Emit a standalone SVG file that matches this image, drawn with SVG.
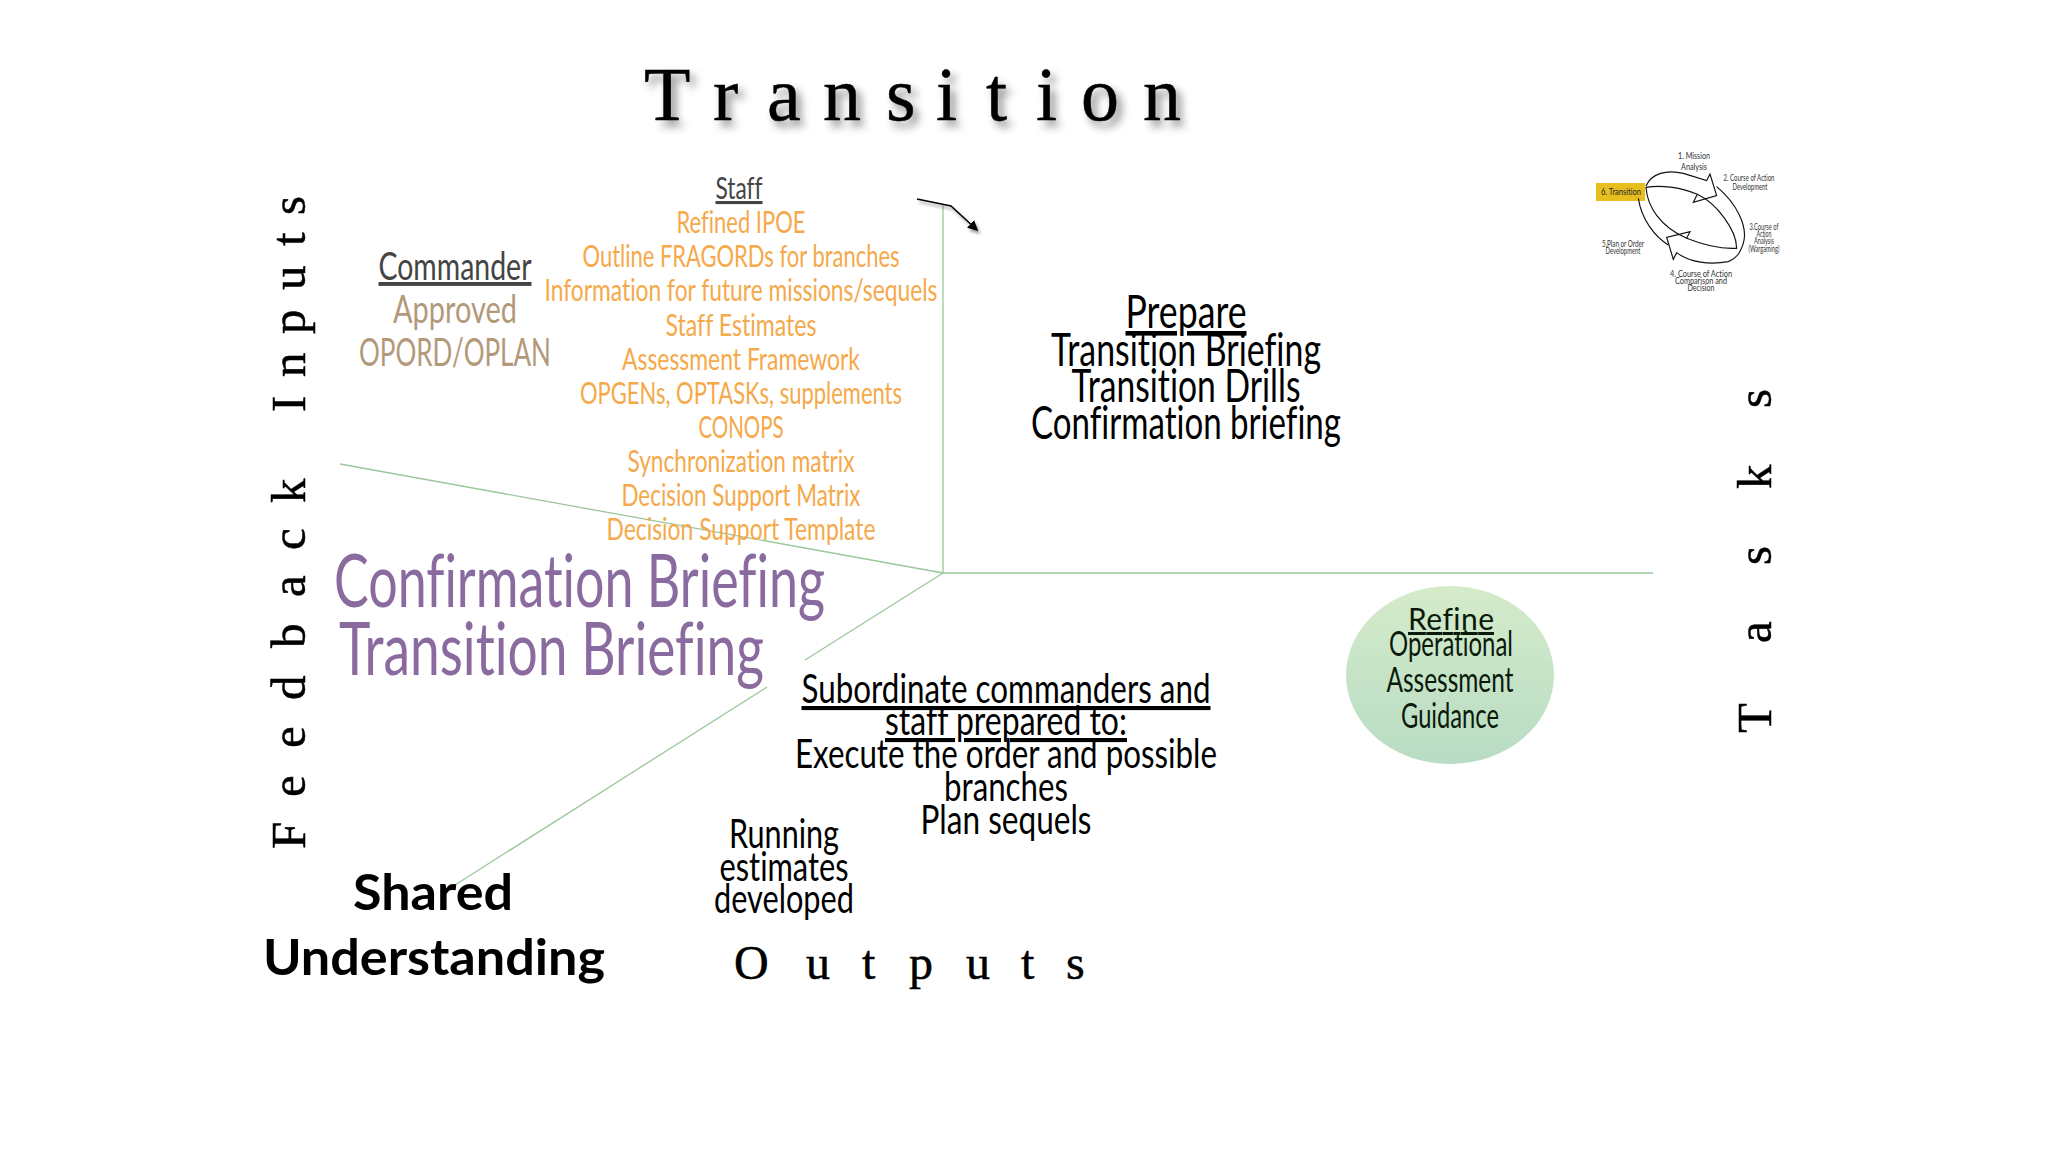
<svg xmlns="http://www.w3.org/2000/svg" width="2048" height="1152" viewBox="0 0 2048 1152">
<defs>
<style>
text{font-family:"Lato","Liberation Sans",sans-serif;text-anchor:middle;font-variant-ligatures:none}
.serif{font-family:"Liberation Serif",serif;fill:#000;text-anchor:start;stroke:#000;stroke-width:.5}
.s{font-size:31px;fill:#f5a94a}
.k{font-size:41px;fill:#000}
.p{font-size:46px;fill:#000}
.t{font-size:39px;fill:#b3997a}
.v{font-size:73px;fill:#8a6ba0;text-anchor:start}
.c{font-size:35px;fill:#0a1a0a}
.r{font-size:30px;fill:#0a1a0a}
.b{font-size:50px;font-weight:700;fill:#000}
.m{font-size:9px;fill:#333}
.g{stroke:#9cc79a;stroke-width:1.3;fill:none}
.u{text-decoration:underline;text-decoration-thickness:2px}
.ring{fill:none;stroke:#111;stroke-width:3.5}
</style>
<filter id="sh" x="-5%" y="-20%" width="110%" height="150%"><feDropShadow dx="5" dy="6" stdDeviation="4" flood-color="#000" flood-opacity=".45"/></filter>
<filter id="sh2" x="-20%" y="-20%" width="150%" height="150%"><feDropShadow dx="2" dy="3" stdDeviation="1.5" flood-color="#000" flood-opacity=".4"/></filter>
<linearGradient id="gr" x1="0" y1="0" x2="0" y2="1"><stop offset="0" stop-color="#d5ebca"/><stop offset="1" stop-color="#b8dcc4"/></linearGradient>
<marker id="ah" markerWidth="7" markerHeight="7" refX="5" refY="3.5" orient="auto"><path d="M0 0L7 3.5L0 7z" fill="#000"/></marker>
</defs>
<rect width="2048" height="1152" fill="#fff"/>
<g id="connectors">
<path class="g" d="M340 464L943 573"/>
<path class="g" d="M943 205V573H1653"/>
<path class="g" d="M943 573L805 660"/>
<path class="g" d="M767 687L455 885"/>
<path d="M917 199L951 206L976 229" fill="none" stroke="#000" stroke-width="1.5" marker-end="url(#ah)" filter="url(#sh2)"/>
</g>
<g id="title" filter="url(#sh)"><text class="serif" y="120" font-size="76" x="644 713 767 823 886 936 986 1036 1081 1143">Transition</text></g>
<g id="feedback-inputs"><text class="serif" transform="translate(305 852) rotate(-90)" font-size="49" x="3 55 104 152 204 255 302 349 420 440 475 518 562 606 637">Feedback Inputs</text></g>
<g id="tasks"><text class="serif" transform="translate(1771 735) rotate(-90)" font-size="49" x="2 92 170 246 327">Tasks</text></g>
<g id="outputs"><text class="serif" y="979" font-size="48" x="734 806 862 909 966 1021 1066">Outputs</text></g>
<g id="commander">
<text class="t u" style="fill:#444" x="455" y="280" textLength="153" lengthAdjust="spacingAndGlyphs">Commander</text>
<text class="t" x="455" y="323" textLength="124" lengthAdjust="spacingAndGlyphs">Approved</text>
<text class="t" x="455" y="366" textLength="192" lengthAdjust="spacingAndGlyphs">OPORD/OPLAN</text>
</g>
<g id="staff">
<text class="s u" style="fill:#444" x="739" y="199" textLength="47" lengthAdjust="spacingAndGlyphs">Staff</text>
<text class="s" x="741" y="233" textLength="129" lengthAdjust="spacingAndGlyphs">Refined IPOE</text>
<text class="s" x="741" y="267" textLength="317" lengthAdjust="spacingAndGlyphs">Outline FRAGORDs for branches</text>
<text class="s" x="741" y="301" textLength="393" lengthAdjust="spacingAndGlyphs">Information for future missions/sequels</text>
<text class="s" x="741" y="336" textLength="151" lengthAdjust="spacingAndGlyphs">Staff Estimates</text>
<text class="s" x="741" y="370" textLength="238" lengthAdjust="spacingAndGlyphs">Assessment Framework</text>
<text class="s" x="741" y="404" textLength="322" lengthAdjust="spacingAndGlyphs">OPGENs, OPTASKs, supplements</text>
<text class="s" x="741" y="438" textLength="85" lengthAdjust="spacingAndGlyphs">CONOPS</text>
<text class="s" x="741" y="472" textLength="227" lengthAdjust="spacingAndGlyphs">Synchronization matrix</text>
<text class="s" x="741" y="506" textLength="239" lengthAdjust="spacingAndGlyphs">Decision Support Matrix</text>
<text class="s" x="741" y="540" textLength="269" lengthAdjust="spacingAndGlyphs">Decision Support Template</text>
</g>
<g id="briefings">
<text class="v" x="334" y="607" textLength="491" lengthAdjust="spacingAndGlyphs">Confirmation Briefing</text>
<text class="v" x="339" y="675" textLength="425" lengthAdjust="spacingAndGlyphs">Transition Briefing</text>
</g>
<g id="prepare">
<text class="p u" x="1186" y="328" textLength="121" lengthAdjust="spacingAndGlyphs">Prepare</text>
<text class="p" x="1186" y="366" textLength="270" lengthAdjust="spacingAndGlyphs">Transition Briefing</text>
<text class="p" x="1186" y="402" textLength="229" lengthAdjust="spacingAndGlyphs">Transition Drills</text>
<text class="p" x="1186" y="439" textLength="310" lengthAdjust="spacingAndGlyphs">Confirmation briefing</text>
</g>
<g id="subordinates">
<text class="k u" x="1006" y="703" textLength="409" lengthAdjust="spacingAndGlyphs">Subordinate commanders and</text>
<text class="k u" x="1006" y="735" textLength="242" lengthAdjust="spacingAndGlyphs">staff prepared to:</text>
<text class="k" x="1006" y="768" textLength="422" lengthAdjust="spacingAndGlyphs">Execute the order and possible</text>
<text class="k" x="1006" y="801" textLength="124" lengthAdjust="spacingAndGlyphs">branches</text>
<text class="k" x="1006" y="834" textLength="171" lengthAdjust="spacingAndGlyphs">Plan sequels</text>
</g>
<g id="running">
<text class="k" x="784" y="848" textLength="110" lengthAdjust="spacingAndGlyphs">Running</text>
<text class="k" x="784" y="881" textLength="129" lengthAdjust="spacingAndGlyphs">estimates</text>
<text class="k" x="784" y="913" textLength="140" lengthAdjust="spacingAndGlyphs">developed</text>
</g>
<g id="shared">
<text class="b" x="433" y="910" textLength="160" lengthAdjust="spacingAndGlyphs">Shared</text>
<text class="b" x="434" y="975" textLength="342" lengthAdjust="spacingAndGlyphs">Understanding</text>
</g>
<g id="refine">
<ellipse cx="1450" cy="675" rx="104" ry="89" fill="url(#gr)"/>
<text class="r u" x="1451" y="630" textLength="86">Refine</text>
<text class="c" x="1451" y="656" textLength="124" lengthAdjust="spacingAndGlyphs">Operational</text>
<text class="c" x="1450" y="692" textLength="127" lengthAdjust="spacingAndGlyphs">Assessment</text>
<text class="c" x="1450" y="728" textLength="98" lengthAdjust="spacingAndGlyphs">Guidance</text>
</g>
<g id="process-cycle">
<rect x="1596" y="183" width="49" height="18" fill="#e6bf1e"/>
<g transform="translate(1560 130) scale(.3333)">
<path class="ring" d="M258 168C275 130 320 118 370 130L440 152L450 132L470 197L400 217L412 193C360 170 300 165 258 172C262 230 300 290 380 325L390 305L320 322L340 388L350 368C390 398 450 405 505 395C530 385 540 370 550 340C565 290 530 220 470 170"/>
<path class="ring" d="M412 193C470 220 530 300 530 355C480 358 430 345 380 325M235 205C245 270 285 320 325 345"/>
</g>
<text class="m" x="1694" y="159" textLength="32" lengthAdjust="spacingAndGlyphs">1. Mission</text>
<text class="m" x="1694" y="170" textLength="26" lengthAdjust="spacingAndGlyphs">Analysis</text>
<text class="m" x="1749" y="181" textLength="51" lengthAdjust="spacingAndGlyphs">2. Course of Action</text>
<text class="m" x="1750" y="190" textLength="35" lengthAdjust="spacingAndGlyphs">Development</text>
<text class="m" x="1621" y="195" style="fill:#222" textLength="40" lengthAdjust="spacingAndGlyphs">6. Transition</text>
<text class="m" x="1764" y="230" textLength="29" lengthAdjust="spacingAndGlyphs">3.Course of</text>
<text class="m" x="1764" y="237" textLength="15" lengthAdjust="spacingAndGlyphs">Action</text>
<text class="m" x="1764" y="244" textLength="20" lengthAdjust="spacingAndGlyphs">Analysis</text>
<text class="m" x="1764" y="252" textLength="31" lengthAdjust="spacingAndGlyphs">(Wargaming)</text>
<text class="m" x="1623" y="247" textLength="42" lengthAdjust="spacingAndGlyphs">5.Plan or Order</text>
<text class="m" x="1623" y="254" textLength="35" lengthAdjust="spacingAndGlyphs">Development</text>
<text class="m" x="1701" y="277" textLength="62" lengthAdjust="spacingAndGlyphs">4. Course of Action</text>
<text class="m" x="1701" y="284" textLength="52" lengthAdjust="spacingAndGlyphs">Comparison and</text>
<text class="m" x="1701" y="291" textLength="27" lengthAdjust="spacingAndGlyphs">Decision</text>
</g>
</svg>
